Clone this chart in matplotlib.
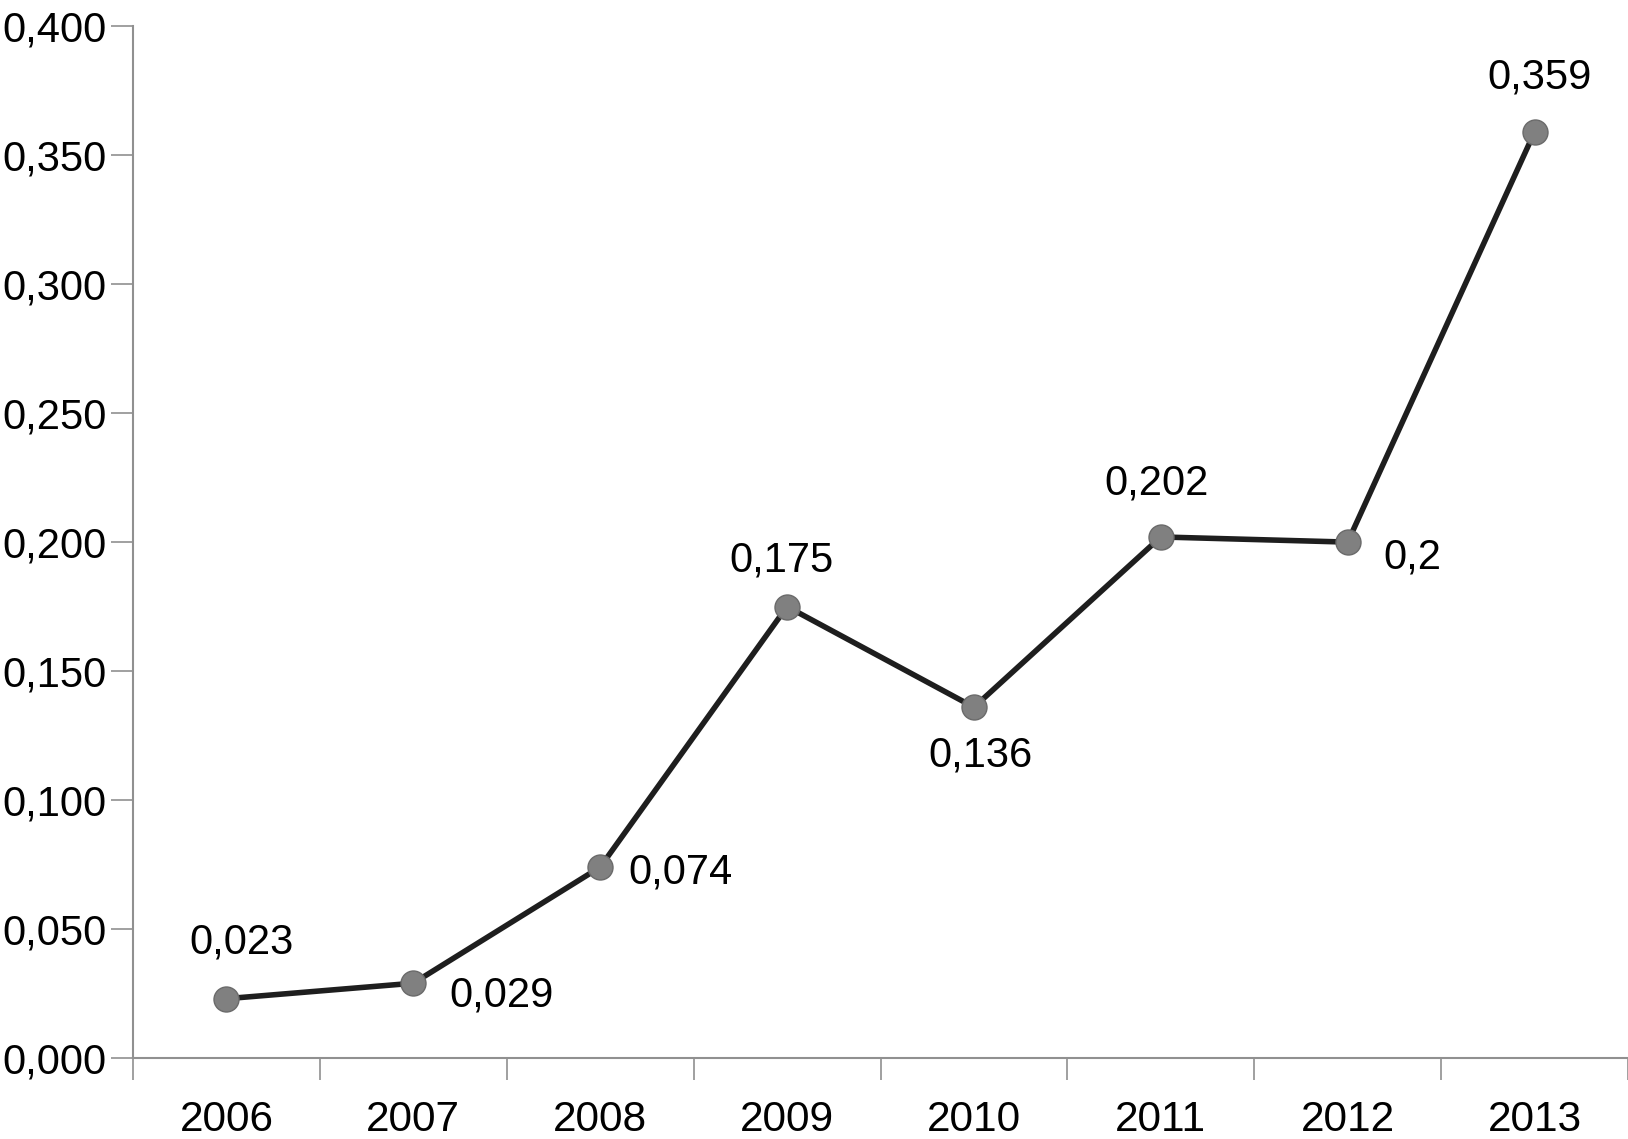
import matplotlib
matplotlib.use("Agg")
import matplotlib.pyplot as plt
from matplotlib.ticker import FuncFormatter, FixedLocator
import numpy as np

years = ["2006", "2007", "2008", "2009", "2010", "2011", "2012", "2013"]
values = [0.023, 0.029, 0.074, 0.175, 0.136, 0.202, 0.2, 0.359]
labels = ["0,023", "0,029", "0,074", "0,175", "0,136", "0,202", "0,2", "0,359"]
# label placement: (dx px, dy px, ha)
label_pos = [(15, 56, "center"), (36, -12, "left"), (28, -5, "left"), (-6, 46, "center"),
             (7, -48, "center"), (-4, 53, "center"), (36, -15, "left"), (5, 54, "center")]

plt.rcParams['font.family'] = ['Liberation Sans', 'DejaVu Sans']

fig = plt.figure(figsize=(16.28, 11.39), dpi=100)
ax = fig.add_axes([0.0817, 0.0711, 0.9183, 0.9059])

x = np.arange(len(years))
ax.plot(x, values, color="#1e1e1e", lw=4, marker="o", markersize=18,
        markerfacecolor="#808080", markeredgecolor="#6a6a6a", markeredgewidth=1, zorder=3)

for xi, v, lab, (dx, dy, ha) in zip(x, values, labels, label_pos):
    ax.annotate(lab, (xi, v), xytext=(dx, dy), textcoords="offset pixels",
                ha=ha, va="center", fontsize=30, color="black")

ax.set_xlim(-0.5, len(years) - 0.5)
ax.set_ylim(0, 0.4)
ax.set_yticks(np.arange(0, 0.4001, 0.05))
ax.yaxis.set_major_formatter(FuncFormatter(lambda v, p: f"{v:.3f}".replace(".", ",")))

ax.xaxis.set_major_locator(FixedLocator(np.arange(-0.5, len(years), 1.0)))
ax.xaxis.set_minor_locator(FixedLocator(x))
ax.set_xticklabels([])
ax.set_xticklabels(years, minor=True)
ax.tick_params(axis="x", which="major", length=16, width=1.2, color="#909090", direction="out")
ax.tick_params(axis="x", which="minor", length=0, labelsize=30.5, pad=30)
ax.tick_params(axis="y", length=16, width=1.2, color="#909090", labelsize=30, pad=3)

for s in ["top", "right"]:
    ax.spines[s].set_visible(False)
for s in ["left", "bottom"]:
    ax.spines[s].set_color("#909090")
    ax.spines[s].set_linewidth(1.5)

fig.savefig("out.png", dpi=100)
